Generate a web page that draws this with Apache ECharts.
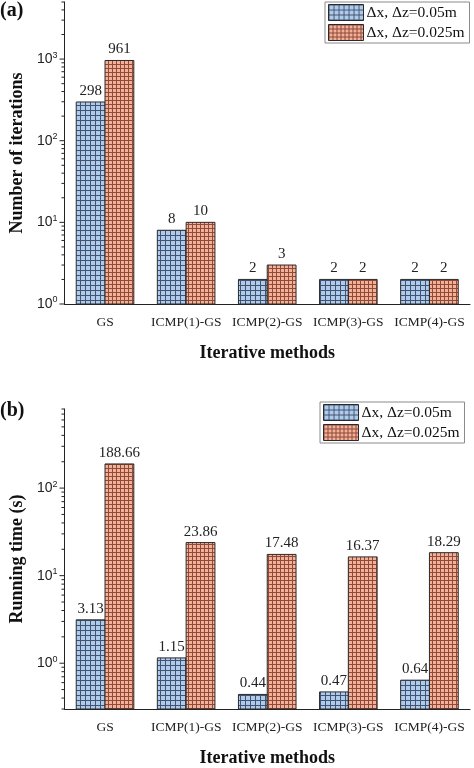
<!DOCTYPE html>
<html>
<head>
<meta charset="utf-8">
<style>
    html, body { margin: 0; padding: 0; background: #fff; }
    #main { width: 474px; height: 768px; }
</style>
</head>
<body>
<div id="main"></div>
<script src="https://cdn.jsdelivr.net/npm/echarts@6/dist/echarts.min.js"></script>
<script type="text/javascript">
    // data
    var methods = ['GS', 'ICMP(1)-GS', 'ICMP(2)-GS', 'ICMP(3)-GS', 'ICMP(4)-GS'];
    var seriesNames = ['Δx, Δz=0.05m', 'Δx, Δz=0.025m'];
    var iterCoarse = [298, 8, 2, 2, 2];
    var iterFine = [961, 10, 3, 2, 2];
    var timeCoarse = [3.13, 1.15, 0.44, 0.47, 0.64];
    var timeFine = [188.66, 23.86, 17.48, 16.37, 18.29];
    var iterRange = [1, 5000];
    var timeRange = [0.3, 800];

    var serif = '"Liberation Serif", "DejaVu Serif", serif';
    var sans = '"Liberation Sans", Arial, sans-serif';
    var catGap = 0.29;

    // grid hatch fills
    function hatch(size, fill, line) {
        var c = document.createElement('canvas');
        c.width = size; c.height = size;
        var ctx = c.getContext('2d');
        ctx.fillStyle = fill;
        ctx.fillRect(0, 0, size, size);
        ctx.fillStyle = line;
        ctx.fillRect(0, 0, size, 1);
        ctx.fillRect(0, 0, 1, size);
        return { image: c, repeat: 'repeat' };
    }
    var blueFill = hatch(5, '#aecbee', '#44536d');
    var redFill = hatch(4, '#f4b19a', '#8f4a38');

    // log ticks 1..9 x 10^e inside the range
    function logTicks(lo, hi) {
        var out = [];
        for (var e = Math.floor(Math.log10(lo)); e <= Math.ceil(Math.log10(hi)); e++) {
            for (var k = 1; k <= 9; k++) {
                var v = k * Math.pow(10, e);
                if (v >= lo * 0.999 && v <= hi * 1.001) out.push([0, v, k === 1 ? 1 : 0]);
            }
        }
        return out;
    }

    function powLabel(value) {
        var l = Math.log10(value);
        var e = Math.round(l);
        if (Math.abs(l - e) > 1e-6) return '';
        return '10{sup|' + e + '}';
    }

    function yAxisOpt(grid, name, range) {
        return {
            type: 'log', logBase: 10, gridIndex: grid,
            min: range[0], max: range[1],
            name: name, nameLocation: 'middle', nameGap: 37,
            nameTextStyle: { fontFamily: serif, fontWeight: 'bold', fontSize: 18, color: '#111' },
            axisLine: { show: true, lineStyle: { color: '#222', width: 1 } },
            axisTick: { show: false },
            splitLine: { show: false },
            axisLabel: {
                formatter: powLabel, margin: 7,
                fontFamily: sans, fontSize: 14, color: '#222',
                rich: { sup: { fontFamily: sans, fontSize: 9, color: '#222', padding: [0, 0, 8, 0] } }
            }
        };
    }

    function xAxisMain(grid) {
        return {
            type: 'category', gridIndex: grid, data: methods, position: 'bottom',
            name: 'Iterative methods', nameLocation: 'middle', nameGap: 40,
            nameTextStyle: { fontFamily: serif, fontWeight: 'bold', fontSize: 18, color: '#111' },
            axisLine: { lineStyle: { color: '#222', width: 1 } },
            axisTick: { alignWithLabel: true, length: 5, lineStyle: { color: '#222' } },
            axisLabel: { fontFamily: serif, fontSize: 13.5, color: '#222', margin: 11, interval: 0 }
        };
    }

    function xAxisMinor(grid) {
        return {
            type: 'category', gridIndex: grid, data: methods, position: 'bottom',
            axisLine: { show: false },
            axisTick: { length: 3, lineStyle: { color: '#222' } },
            axisLabel: { show: false }
        };
    }

    // bars drawn from the axis minimum (log axis bars otherwise start at 1)
    function barSeries(name, side, xi, yi, data, fill, base) {
        return {
            name: name, type: 'custom', xAxisIndex: xi, yAxisIndex: yi,
            data: data.map(function (v, i) { return [i, v]; }),
            encode: { x: 0, y: 1 },
            itemStyle: { color: fill, borderColor: '#2a2a2a', borderWidth: 1 },
            renderItem: function (params, api) {
                var idx = api.value(0), val = api.value(1);
                var top = api.coord([idx, val]);
                var bottom = api.coord([idx, base]);
                var band = api.size([1, 0])[0];
                var w = band * (1 - catGap) / 2;
                var x = side === 0 ? top[0] - w : top[0];
                return {
                    type: 'rect',
                    shape: { x: x, y: top[1], width: w, height: bottom[1] - top[1] },
                    style: { fill: fill, stroke: '#2a2a2a', lineWidth: 1 },
                    textContent: {
                        style: { text: String(val), fontFamily: serif, fontSize: 15, fill: '#222' }
                    },
                    textConfig: { position: 'top', distance: 3 }
                };
            }
        };
    }

    function tickSeries(xi, yi, range) {
        return {
            type: 'custom', xAxisIndex: xi, yAxisIndex: yi, silent: true, clip: false,
            data: logTicks(range[0], range[1]),
            encode: { x: 0, y: 1 },
            renderItem: function (params, api) {
                var y = api.coord([0, api.value(1)])[1];
                var x = params.coordSys.x;
                var len = api.value(2) ? 5 : 3;
                return { type: 'line', shape: { x1: x - len, y1: y, x2: x, y2: y },
                    style: { stroke: '#222', lineWidth: 1 } };
            }
        };
    }

    function legendOpt(left, top) {
        return {
            data: seriesNames, orient: 'vertical', left: left, top: top,
            itemWidth: 35, itemHeight: 16, itemGap: 3,
            padding: [2, 5, 2, 3],
            borderColor: '#8a8a8a', borderWidth: 1,
            icon: 'rect',
            itemStyle: { borderColor: '#2a2a2a', borderWidth: 1 },
            textStyle: { fontFamily: serif, fontSize: 15.5, color: '#111', padding: [0, 0, 0, -2] },
            selectedMode: false
        };
    }

    var myChart = echarts.init(document.getElementById('main'));
    var option = {
        animation: false,
        backgroundColor: '#fff',
        title: [
            { text: '(a)', left: 0, top: 1, padding: 0, textStyle: { fontFamily: serif, fontWeight: 'bold', fontSize: 20, color: '#111' } },
            { text: '(b)', left: 0, top: 401, padding: 0, textStyle: { fontFamily: serif, fontWeight: 'bold', fontSize: 20, color: '#111' } }
        ],
        legend: [legendOpt(325, 2), legendOpt(320, 402)],
        grid: [
            { left: 62, top: 2, width: 408, height: 302 },
            { left: 62, top: 409, width: 408, height: 304 }
        ],
        xAxis: [xAxisMain(0), xAxisMinor(0), xAxisMain(1), xAxisMinor(1)],
        yAxis: [yAxisOpt(0, 'Number of iterations', iterRange), yAxisOpt(1, 'Running time (s)', timeRange)],
        series: [
            barSeries(seriesNames[0], 0, 0, 0, iterCoarse, blueFill, iterRange[0]),
            barSeries(seriesNames[1], 1, 0, 0, iterFine, redFill, iterRange[0]),
            barSeries(seriesNames[0], 0, 2, 1, timeCoarse, blueFill, timeRange[0]),
            barSeries(seriesNames[1], 1, 2, 1, timeFine, redFill, timeRange[0]),
            tickSeries(0, 0, iterRange),
            tickSeries(2, 1, timeRange)
        ]
    };
    myChart.setOption(option);
</script>
</body>
</html>
